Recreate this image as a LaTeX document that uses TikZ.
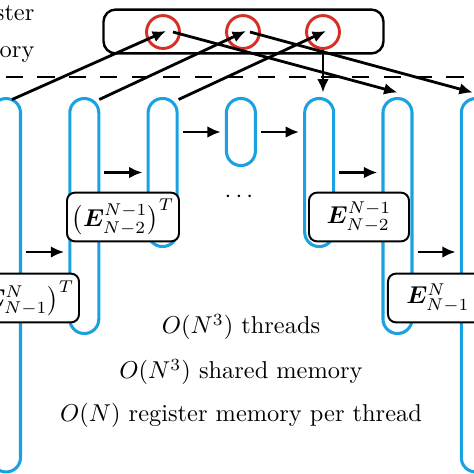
\documentclass[tikz,border=0pt]{standalone}
\usepackage{amsmath}
\usepackage{bm}
\usetikzlibrary{calc, arrows.meta}
\definecolor{threadblue}{RGB}{27,161,226}
\definecolor{regred}{RGB}{214,48,36}

\begin{document}
\begin{tikzpicture}[x=0.41pt, y=-0.41pt,
  thread/.style={draw=threadblue, line width=1.25pt, rounded corners=5.9pt, minimum width=11.9pt, inner sep=0pt, outer sep=0pt},
  ebox/.style={draw, fill=white, line width=0.8pt, rounded corners=3.3pt, minimum width=41pt, minimum height=20pt, inner sep=2pt},
  slot/.style={circle, draw=regred, line width=1.2pt, minimum size=13.5pt, inner sep=0pt},
  flow/.style={-{Latex[length=5.5pt,width=4.8pt]}, line width=1.15pt}]
\useasboundingbox (0,0) rectangle (474,474);
\clip (0,0) rectangle (474,474);

% Draw threads
\node[thread, minimum height=153.1pt] (t1) at (6,285.25) {};
\node[thread, minimum height=96.35pt] (t2) at (84.3,216) {};
\node[thread, minimum height=60.7pt] (t3) at (162.6,172.5) {};
\node[thread, minimum height=27.5pt] (t4) at (240.9,132) {};
\node[thread, minimum height=60.7pt] (t5) at (319.2,172.5) {};
\node[thread, minimum height=96.35pt] (t6) at (397.5,216) {};
\node[thread, minimum height=153.1pt] (t7) at (475.8,285.25) {};

% Draw shared memory steps
\draw[flow, shorten <=2.3pt, shorten >=2.3pt] (t1.east |- 0,252) -- (t2.west |- 0,252);
\draw[flow, shorten <=2.3pt, shorten >=2.3pt] (t2.east |- t3.west) -- (t3.west);
\draw[flow, shorten <=2.3pt, shorten >=2.3pt] (t3.east |- t4.west) -- (t4.west);
\draw[flow, shorten <=2.3pt, shorten >=2.3pt] (t4.east) -- (t5.west |- t4.east);
\draw[flow, shorten <=2.3pt, shorten >=2.3pt] (t5.east) -- (t6.west |- t5.east);
\draw[flow, shorten <=2.3pt, shorten >=2.3pt] (t6.east |- 0,252) -- (t7.west |- 0,252);
\node (dots) at (241,197) {$\cdots$};

% Mark the matrices
\node[ebox, anchor=east] (e1) at (80,298) {$\left(\bm{E}^{N}_{N-1}\right)^{T}$};
\node[ebox] (e2) at (123,217) {$\left(\bm{E}^{N-1}_{N-2}\right)^{T}$};
\node[ebox] (e3) at (359,217) {$\bm{E}^{N-1}_{N-2}$};
\node[ebox, anchor=west] (e4) at (387,298) {$\bm{E}^{N}_{N-1}$};

% Draw register memory
\node[align=right, anchor=east] (regmem) at (43,33) {Register\\[3pt]memory};
\node[draw, line width=1pt, rounded corners=5pt, minimum width=114.8pt, minimum height=18pt] (regs) at (243.5,31.5) {};
\node[slot] (c1) at (163,32) {};
\node[slot] (c2) at (243,32) {};
\node[slot] (c3) at (323,32) {};
\draw[dashed, dash pattern=on 7pt off 5.9pt, line width=0.85pt] (6,77) -- (474,77);

% Load and store
\draw[flow] ($(t1.north)+(6,1)$) -- ($(c1)+(3,-1)$);
\draw[flow] ($(t2.north)+(15,1)$) -- ($(c2)+(3,-1)$);
\draw[flow] ($(t3.north)+(16,1)$) -- ($(c3)+(3,-1)$);
\draw[flow] ($(c1)+(10,0)$) -- ($(t6.north)+(0,-6)$);
\draw[flow] ($(c2)+(7,0)$) -- ($(t7.north)+(-3,-6)$);
\draw[flow] (c3.south) -- ($(c3.south |- t5.north)+(0,-6)$);

% Costs
\node (nthr) at (241,327) {$O(N^3)$ threads};
\node (nshm) at (241,372) {$O(N^3)$ shared memory};
\node (nreg) at (241,415) {$O(N)$ register memory per thread};
\end{tikzpicture}
\end{document}
